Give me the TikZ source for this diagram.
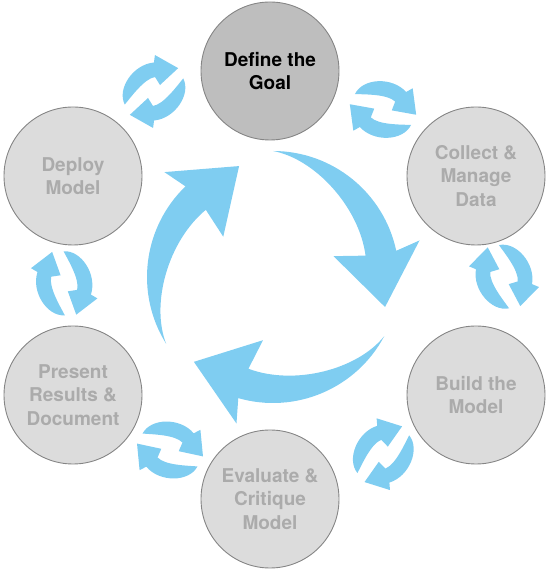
\documentclass[tikz,border=0pt]{standalone}
\usepackage{fontspec}
\setmainfont{TeX Gyre Heros}
\usetikzlibrary{calc}
\definecolor{cycleblue}{HTML}{7FCDF1}
\definecolor{stepgray}{HTML}{DCDCDC}
\definecolor{goalgray}{HTML}{BEBEBE}
\definecolor{rimgray}{HTML}{858585}
\definecolor{labelgray}{HTML}{ABABAB}

\begin{document}
\begin{tikzpicture}[
    x=1pt, y=1pt,
    stage/.style={circle, draw=rimgray, line width=0.9pt, fill=stepgray, minimum size=138pt, inner sep=0pt, align=center, text=labelgray, font=\fontsize{19}{23.5}\selectfont\bfseries},
    goalstage/.style={stage, fill=goalgray, text=black},
    pics/bigturn/.style={code={
        \fill[cycleblue] (105:126) arc[start angle=105, end angle=27, radius=126]
            -- (29:151) -- (0:116) -- (34:64) -- (28:95)
            .. controls (65,90) and (10,125) .. (105:126) -- cycle;
    }},
    pics/smallturn/.style={code={
        \fill[cycleblue] (-30.1,10.9) .. controls (-25,28) and (4,34) .. (20.1,20.9)
            -- (26,25.6) -- (33.6,0) -- (8.8,0.5) -- (10.8,9.7)
            .. controls (2,16) and (-20,12) .. (-30.1,10.9) -- cycle;
    }},
    pics/turnpair/.style={code={
        \pic[transform shape] {smallturn};
        \pic[transform shape, rotate=180] {smallturn};
    }}
]
\useasboundingbox (0,0) rectangle (550,572);

\node[goalstage] (goal) at (270,501) {Define the\\Goal};
\node[stage] (collect) at (476,396) {Collect \&\\Manage\\Data};
\node[stage] (build) at (476,177) {Build the\\Model};
\node[stage] (evaluate) at (270,73) {Evaluate \&\\Critique\\Model};
\node[stage] (present) at (73,177) {Present\\Results \&\\Document};
\node[stage] (deploy) at (73,396) {Deploy\\Model};

\coordinate (hub) at (273,295);
\pic[rotate=-15] at (hub) {bigturn};
\pic[rotate=-133] at (hub) {bigturn};
\pic[rotate=107] at (hub) {bigturn};

\pic[rotate=44] at (154,480.5) {turnpair};
\pic[rotate=-9] at (383,462.5) {turnpair};
\pic[rotate=119] at (504,295.3) {turnpair};
\pic[rotate=56] at (383.3,117.8) {turnpair};
\pic[rotate=-11] at (170,122) {turnpair};
\pic[rotate=111] at (64.2,288.7) {turnpair};
\end{tikzpicture}
\end{document}
